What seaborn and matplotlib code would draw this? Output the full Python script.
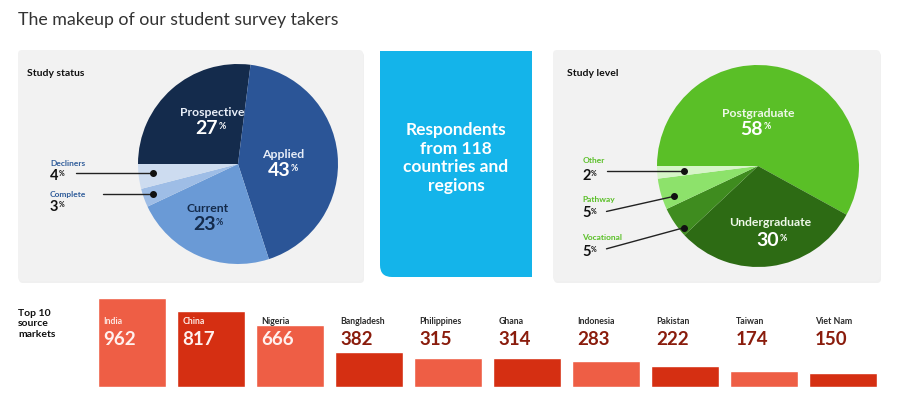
import matplotlib
matplotlib.use("Agg")
import matplotlib.pyplot as plt
from matplotlib.patches import FancyBboxPatch
import seaborn as sns

# ---- data ----
status_labels = ["Prospective", "Applied", "Current", "Complete", "Decliners"]
status_values = [27, 43, 23, 3, 4]
status_colors = ["#142b4c", "#2b5597", "#6a9ad6", "#9ebde6", "#cddcf0"]

level_labels = ["Postgraduate", "Undergraduate", "Vocational", "Pathway", "Other"]
level_values = [58, 30, 5, 5, 2]
level_colors = ["#5abf27", "#2d6b14", "#3f8c1f", "#8de26b", "#d6f5c8"]

countries = ["India", "China", "Nigeria", "Bangladesh", "Philippines",
             "Ghana", "Indonesia", "Pakistan", "Taiwan", "Viet Nam"]
respondents = [962, 817, 666, 382, 315, 314, 283, 222, 174, 150]
bar_colors = ["#ee5e45", "#d52f12"] * 5

n_countries = 118

sns.set_theme(style="white")
plt.rcParams["font.family"] = ["Lato", "DejaVu Sans"]

W, H = 900, 406
fig = plt.figure(figsize=(W / 100, H / 100), dpi=100)
fig.patch.set_facecolor("white")


def rect(x, y, w, h):
    # pixel box (top-left origin) -> figure fraction
    return [x / W, 1 - (y + h) / H, w / W, h / H]


# background layer in pixel coordinates
bg = fig.add_axes([0, 0, 1, 1])
bg.set_xlim(0, W)
bg.set_ylim(H, 0)
bg.axis("off")

for x0, x1 in [(18, 363), (553, 880)]:
    bg.add_patch(FancyBboxPatch((x0 + 1, 53), x1 - x0, 231, boxstyle="round,pad=0,rounding_size=4",
                                fc="#e6e6e6", ec="none", alpha=0.6))
    bg.add_patch(FancyBboxPatch((x0, 51), x1 - x0, 231, boxstyle="round,pad=0,rounding_size=4",
                                fc="#f2f2f2", ec="none"))

bg.add_patch(FancyBboxPatch((380, 52), 152, 226, boxstyle="round,pad=0,rounding_size=12",
                            fc="#14b4ea", ec="none"))
bg.add_patch(plt.Rectangle((380, 52), 152, 180, fc="#14b4ea", ec="none"))
bg.add_patch(plt.Rectangle((460, 52), 72, 226, fc="#14b4ea", ec="none"))
bg.text(456, 158, f"Respondents\nfrom {n_countries}\ncountries and\nregions", color="white",
        fontsize=12.5, fontweight="bold", ha="center", va="center", linespacing=1.2)

bg.text(18, 20, "The makeup of our student survey takers", fontsize=12.8, color="#333333",
        va="center", ha="left")
bg.text(27, 73, "Study status", fontsize=7.5, fontweight="bold", color="#111111", va="center")
bg.text(567, 73, "Study level", fontsize=7.5, fontweight="bold", color="#111111", va="center")
bg.text(18, 324, "Top 10\nsource\nmarkets", fontsize=7.5, fontweight="bold", color="#111111",
        va="center", ha="left", linespacing=1.25)


def pct(ax, x, y, value, size, color):
    t = ax.text(x, y, str(value), fontsize=size, fontweight="bold", color=color,
                ha="center", va="center")
    ax.annotate("%", xy=(1.0, 0.92), xycoords=t, fontsize=size * 0.45, fontweight="bold",
                color=color, ha="left", va="top")


def draw_pie(ax, values, colors):
    ax.pie(values, colors=colors, startangle=180, counterclock=False,
           wedgeprops=dict(linewidth=0))
    ax.set_xlim(-1, 1)
    ax.set_ylim(-1, 1)
    ax.set_aspect("equal")
    ax.axis("off")


# ---- study status pie ----
ax1 = fig.add_axes(rect(138, 65, 200, 200))
draw_pie(ax1, status_values, status_colors)
inner1 = {"Prospective": ((-0.26, 0.53), (-0.31, 0.36)),
          "Applied": ((0.45, 0.11), (0.41, -0.06)),
          "Current": ((-0.30, -0.43), (-0.34, -0.60))}
for lab, val in zip(status_labels, status_values):
    if lab in inner1:
        (nx, ny), (vx, vy) = inner1[lab]
        ax1.text(nx, ny, lab, fontsize=8.8, fontweight="bold",
                 color="#e8eef8" if lab != "Current" else "#142b4c", ha="center", va="center")
        pct(ax1, vx, vy, val, 14, "white" if lab != "Current" else "#142b4c")
outer1 = {"Decliners": (0.02, -0.11, -1.62, -0.09),
          "Complete": (-0.30, -0.42, -1.35, -0.30)}
for lab, val in zip(status_labels, status_values):
    if lab in outer1:
        ny, vy, lx, dy = outer1[lab]
        ax1.text(-1.88, ny, lab, fontsize=6, fontweight="bold", color="#2f5c9a", va="center",
                 ha="left", clip_on=False)
        t = ax1.text(-1.88, vy, str(val), fontsize=10.5, fontweight="bold", color="#111111",
                     va="center", ha="left", clip_on=False)
        ax1.annotate("%", xy=(1.0, 0.92), xycoords=t, fontsize=5, fontweight="bold",
                     color="#111111", ha="left", va="top")
        ax1.plot([lx, -0.85], [dy, dy], color="#222222", lw=1, clip_on=False)
        ax1.plot([-0.85], [dy], "o", color="#111111", ms=4, clip_on=False)

# ---- study level pie ----
ax2 = fig.add_axes(rect(657, 66, 202, 202))
draw_pie(ax2, level_values, level_colors)
inner2 = {"Postgraduate": ((0.0, 0.53), (-0.06, 0.37)),
          "Undergraduate": ((0.12, -0.55), (0.10, -0.73))}
for lab, val in zip(level_labels, level_values):
    if lab in inner2:
        (nx, ny), (vx, vy) = inner2[lab]
        ax2.text(nx, ny, lab, fontsize=8.8, fontweight="bold", color="#eef8e8", ha="center", va="center")
        pct(ax2, vx, vy, val, 14, "white")
outer2 = {"Other": (0.06, -0.09, -0.05, -0.73, -0.05),
          "Pathway": (-0.32, -0.46, -0.45, -0.83, -0.30),
          "Vocational": (-0.70, -0.84, -0.82, -0.73, -0.61)}
for lab, val in zip(level_labels, level_values):
    if lab in outer2:
        ny, vy, ly, dx, dy = outer2[lab]
        ax2.text(-1.74, ny, lab, fontsize=6, fontweight="bold", color="#5abf27", va="center",
                 ha="left", clip_on=False)
        t = ax2.text(-1.74, vy, str(val), fontsize=10.5, fontweight="bold", color="#111111",
                     va="center", ha="left", clip_on=False)
        ax2.annotate("%", xy=(1.0, 0.92), xycoords=t, fontsize=5, fontweight="bold",
                     color="#111111", ha="left", va="top")
        ax2.plot([-1.50, dx], [ly, dy], color="#222222", lw=1, clip_on=False)
        ax2.plot([dx], [dy], "o", color="#111111", ms=4, clip_on=False)

# ---- top 10 source markets ----
ax3 = fig.add_axes(rect(92.5, 299, 790, 89))
sns.barplot(x=countries, y=respondents, hue=countries, palette=bar_colors, width=0.86,
            legend=False, saturation=1, ax=ax3)
ax3.set_xlim(-0.5, len(countries) - 0.5)
ax3.set_ylim(0, max(respondents))
ax3.axis("off")

to_px = ax3.transData
for i, (c, v) in enumerate(zip(countries, respondents)):
    x_left = i - 0.43 + 0.07
    bar_top_px = H - to_px.transform((0, v))[1]
    name_in = bar_top_px < 316
    num_in = bar_top_px < 330
    xp = to_px.transform((x_left, 0))[0]
    ax3.text(xp, 322, c, fontsize=6.3, fontweight="bold", va="center", ha="left",
             color="#fde8e3" if name_in else "#2a2a2a", transform=bg.transData, clip_on=False)
    ax3.text(xp, 340, str(v), fontsize=13.5, fontweight="bold", va="center", ha="left",
             color="#fff1ee" if num_in else "#8a1c0c", transform=bg.transData, clip_on=False)

fig.savefig("out.png", dpi=100, facecolor="white")
